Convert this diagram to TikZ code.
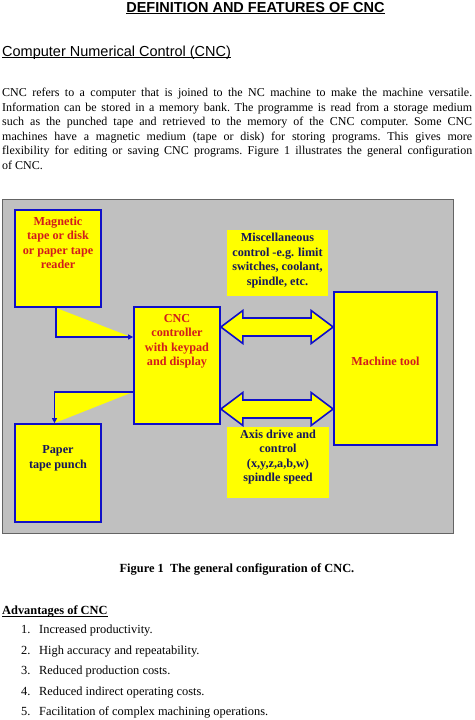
\documentclass[tikz,border=0pt]{standalone}
\usepackage{fontspec}
\setmainfont{Liberation Serif}
\setsansfont{Liberation Sans}
\usetikzlibrary{positioning, calc, arrows.meta}

\definecolor{figgray}{RGB}{192,192,192}
\definecolor{framegray}{RGB}{100,100,100}
\definecolor{boxyellow}{RGB}{255,255,0}
\definecolor{boxblue}{RGB}{16,16,200}
\definecolor{txtred}{RGB}{210,28,28}
\definecolor{txtnavy}{RGB}{22,22,92}

% underline at a fixed depth below the baseline
\newcommand{\ulin}[2][1.8pt]{\setbox0\hbox{#2}\rlap{\rule[-#1]{\wd0}{0.9pt}}\box0}

\tikzset{
  unit/.style={draw=boxblue, line width=1.8pt, fill=boxyellow, inner sep=0pt},
  note/.style={fill=boxyellow, inner sep=0pt},
  boxtxt/.style={align=center, inner sep=0pt, font=\bfseries\fontsize{12.2}{14.5}\selectfont},
  plain/.style={inner sep=0pt, font=\fontsize{12}{14.5}\selectfont},
  listtxt/.style={inner sep=0pt, font=\fontsize{12.4}{14.5}\selectfont},
  boldtxt/.style={inner sep=0pt, font=\bfseries\fontsize{12.4}{14.5}\selectfont},
  link/.style={draw=boxblue, line width=1.6pt, -{Triangle[length=5pt,width=5pt]}},
  bigarrow/.style={draw=boxblue, line width=1.6pt, fill=boxyellow},
}

\begin{document}
\begin{tikzpicture}[x=1pt, y=-1pt]
	\useasboundingbox (0,0) rectangle (474,720);

	% headings and text
	\node[anchor=base, inner sep=0pt, font=\sffamily\bfseries\fontsize{14.5}{17}\selectfont] (title) at (255.5,12.3)
		{\ulin{DEFINITION AND FEATURES OF CNC}};
	\node[anchor=base west, inner sep=0pt, font=\sffamily\fontsize{14.5}{17}\selectfont] (sub) at (2,56.5)
		{\ulin{Computer Numerical Control (CNC)}};
	\node[plain, anchor=north west, text width=470pt, align=justify] (intro) at (2,88.2)
	{
		\frenchspacing
		CNC refers to a computer that is joined to the NC machine to make the machine versatile.\linebreak
		Information can be stored in a memory bank. The programme is read from a storage medium\linebreak
		such as the punched tape and retrieved to the memory of the CNC computer. Some CNC\linebreak
		machines have a magnetic medium (tape or disk) for storing programs. This gives more\linebreak
		flexibility for editing or saving CNC programs. Figure 1 illustrates the general configuration\linebreak
		of CNC.
	};

	% figure
	\draw[draw=framegray, line width=0.8pt, fill=figgray] (2,199) rectangle (453,533);

	\node[unit, minimum width=86pt, minimum height=97pt] (mag) at (58,258.5) {};
	\node[boxtxt, text=txtred, below=7.5pt of mag.north] (magtxt) {Magnetic\\tape or disk\\or paper tape\\reader};

	\node[unit, minimum width=86pt, minimum height=117pt] (cnc) at (177,365.5) {};
	\node[boxtxt, text=txtred, below=8pt of cnc.north] (cnctxt) {CNC\\controller\\with keypad\\and display};

	\node[unit, minimum width=103pt, minimum height=153pt] (tool) at (385.5,368.5) {};
	\node[boxtxt, text=txtred] (tooltxt) at ([yshift=7pt]tool.center) {Machine tool};

	\node[unit, minimum width=86pt, minimum height=98pt] (punch) at (58,473) {};
	\node[boxtxt, text=txtnavy, below=22.5pt of punch.north] (punchtxt) {Paper\\tape punch};

	\node[note, minimum width=101pt, minimum height=66pt] (misc) at (277.5,263) {};
	\node[boxtxt, text=txtnavy, below=3.5pt of misc.north] (misctxt) {Miscellaneous\\control -e.g. limit\\switches, coolant,\\spindle, etc.};

	\node[note, minimum width=102pt, minimum height=71pt] (axis) at (278,462.5) {};
	\node[boxtxt, text=txtnavy, below=3pt of axis.north] (axistxt) {Axis drive and\\control\\(x,y,z,a,b,w)\\spindle speed};

	% reader to controller
	\coordinate (magout) at ([xshift=-2pt]mag.south);
	\coordinate (feed) at (cnc.west |- 0,337);
	\coordinate (bend1) at (magout |- feed);
	\fill[boxyellow] (magout) -- (bend1) -- ([xshift=-2pt]feed) -- cycle;
	\draw[link] (magout) |- (feed);

	% controller to punch
	\coordinate (punchin) at ([xshift=-3.5pt]punch.north);
	\coordinate (drain) at (cnc.west |- 0,392);
	\coordinate (bend2) at (punchin |- drain);
	\fill[boxyellow] (drain) -- (bend2) -- (punchin) -- cycle;
	\draw[link] (drain) -| (punchin);

	% controller <-> machine tool
	\foreach \ay in {327,409}
	{
		\coordinate (al) at (cnc.east |- 0,\ay);
		\coordinate (ar) at (tool.west |- 0,\ay);
		\draw[bigarrow] (al) -- ($(al)+(22,-16.5)$) -- ($(al)+(22,-9)$) -- ($(ar)+(-22,-9)$)
			-- ($(ar)+(-22,-16.5)$) -- (ar) -- ($(ar)+(-22,16.5)$) -- ($(ar)+(-22,9)$)
			-- ($(al)+(22,9)$) -- ($(al)+(22,16.5)$) -- cycle;
	}

	% caption and list
	\node[boldtxt, anchor=base] (caption) at (237,572)
		{Figure 1\ \ The general configuration of CNC.};
	\node[boldtxt, anchor=base west] (adv) at (2,614)
		{\ulin[2.4pt]{Advantages of CNC}};
	\foreach \n/\advtxt in {1/Increased productivity., 2/High accuracy and repeatability.,
		3/Reduced production costs., 4/Reduced indirect operating costs.,
		5/Facilitation of complex machining operations.}
	{
		\node[listtxt, anchor=base west] (num\n) at (21,{633.5+(\n-1)*20.6}) {\n.};
		\node[listtxt, anchor=base west] (adv\n) at (39,{633.5+(\n-1)*20.6}) {\advtxt};
	}
\end{tikzpicture}
\end{document}
